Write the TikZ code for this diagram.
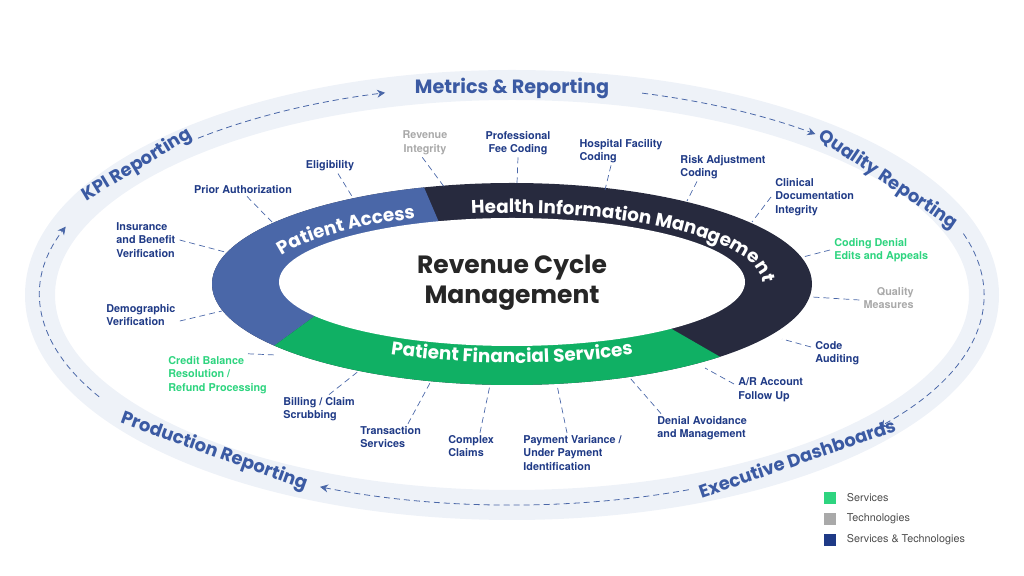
\documentclass[tikz,border=0pt]{standalone}
\usepackage{fontspec}
\setmainfont{TeX Gyre Heros}
\newfontfamily\headfont{Poppins}
\usetikzlibrary{decorations.text,arrows.meta}
\definecolor{bandgray}{HTML}{EEF2F8}
\definecolor{accblue}{HTML}{4A67A8}
\definecolor{himnavy}{HTML}{272A3E}
\definecolor{pfsgreen}{HTML}{10B064}
\definecolor{lblblue}{HTML}{1F3A86}
\definecolor{lblgreen}{HTML}{2ED47F}
\definecolor{lblgray}{HTML}{A9A9A9}
\definecolor{headblue}{HTML}{3B5AA3}
\tikzset{
  lbl/.style={font=\fontsize{5.4pt}{6.8pt}\selectfont\bfseries, text=lblblue, align=left, inner sep=0pt},
  lblg/.style={lbl, text=lblgreen},
  lblt/.style={lbl, text=lblgray},
  lead/.style={draw=accblue, densely dashed, line width=0.35pt},
  band/.style={font=\headfont\fontsize{9pt}{10pt}\selectfont\bfseries, text=headblue, inner sep=0pt},
  flow/.style={draw=accblue, densely dashed, line width=0.4pt, -{Stealth[length=4pt,width=4pt]}},
  key/.style={minimum size=6pt, inner sep=0pt},
  keytxt/.style={font=\fontsize{5.4pt}{6pt}\selectfont, text=black!70, anchor=west, inner sep=0pt}
}
\begin{document}
\begin{tikzpicture}[x=0.5pt,y=-0.5pt]
    \useasboundingbox (0,0) rectangle (1024,576);
    % outer band
    \draw [bandgray, line width=15pt] (512,295) ellipse [x radius=472, y radius=210];
    \draw [flow] ([shift={(-131.7:472 and 210)}]512,295) arc [start angle=-131.7, end angle=-105.6, x radius=472, y radius=210];
    \draw [flow] ([shift={(-74:472 and 210)}]512,295) arc [start angle=-74, end angle=-50, x radius=472, y radius=210];
    \draw [flow] ([shift={(-17:472 and 210)}]512,295) arc [start angle=-17, end angle=39, x radius=472, y radius=210];
    \draw [flow] ([shift={(68:472 and 210)}]512,295) arc [start angle=68, end angle=114, x radius=472, y radius=210];
    \draw [flow] ([shift={(151:472 and 210)}]512,295) arc [start angle=151, end angle=199, x radius=472, y radius=210];
    \node [band, font=\headfont\fontsize{9.6pt}{10pt}\selectfont\bfseries] (metrics) at (512,88) {Metrics \& Reporting};
    \node [band, rotate=31] (kpi) at (137,165) {KPI Reporting};
    \node [band, rotate=-34] (quality) at (888,180) {Quality Reporting};
    \node [band, rotate=19] (exec) at (797,458) {Executive Dashboards};
    \node [band, rotate=-20] (prod) at (214,452) {Production Reporting};
    % ring
    \begin{scope}
        \clip (512,284) ellipse [x radius=300, y radius=101];
        \fill [himnavy] (200,150) rectangle (820,400);
        \fill [accblue] (150,150) -- (408,150) -- (465,283) -- (360,283) -- (200,400) -- (150,400) -- cycle;
        \fill [pfsgreen] (360,283) -- (592,283) -- (795,400) -- (200,400) -- cycle;
        \fill [white] (512,282) ellipse [x radius=233, y radius=64];
    \end{scope}
    \path [decorate, decoration={text along path, text align=center,
        text={|\headfont\fontsize{9.2pt}{9pt}\selectfont\bfseries\color{white}|Patient Access}}]
        ([shift={(-168:250 and 70)}]512,283) arc [start angle=-168, end angle=-108, x radius=250, y radius=70];
    \path [decorate, decoration={text along path, text align=center,
        text={|\headfont\fontsize{9.2pt}{9pt}\selectfont\bfseries\color{white}|Health Information Management}}]
        ([shift={(-103:250 and 70)}]512,283) arc [start angle=-103, end angle=12, x radius=250, y radius=70];
    \path [decorate, decoration={text along path, text align=center,
        text={|\headfont\fontsize{9.2pt}{9pt}\selectfont\bfseries\color{white}|Patient Financial Services}}]
        ([shift={(122:268 and 80)}]512,283) arc [start angle=122, end angle=58, x radius=268, y radius=80];
    \node [font=\headfont\fontsize{12.5pt}{15pt}\selectfont\bfseries, text=black!85, align=center] (rcm) at (512,283) {Revenue Cycle\\Management};
    % labels
    \node [lblt, align=center] (revint) at (425,143) {Revenue\\Integrity};
    \node [lbl, align=center] (profee) at (518,143) {Professional\\Fee Coding};
    \node [lbl] (hospfac) at (621,151) {Hospital Facility\\Coding};
    \node [lbl] (riskadj) at (723,167) {Risk Adjustment\\Coding};
    \node [lbl, anchor=west] (cdi) at (775,197) {Clinical\\Documentation\\Integrity};
    \node [lblg, anchor=west] (codden) at (834,250) {Coding Denial\\Edits and Appeals};
    \node [lblt, align=right, anchor=east] (qualmeas) at (914,298) {Quality\\Measures};
    \node [lbl, anchor=west] (codeaud) at (815,353) {Code\\Auditing};
    \node [lbl, anchor=west] (arfollow) at (738,390) {A/R Account\\Follow Up};
    \node [lbl, anchor=west] (denavoid) at (657,428) {Denial Avoidance\\and Management};
    \node [lbl, anchor=west] (payvar) at (523,453) {Payment Variance /\\Under Payment\\Identification};
    \node [lbl, anchor=west] (complex) at (448,446) {Complex\\Claims};
    \node [lbl, anchor=west] (trans) at (360,437) {Transaction\\Services};
    \node [lbl, anchor=west] (billing) at (283,409) {Billing / Claim\\Scrubbing};
    \node [lblg, anchor=west] (credit) at (168,375) {Credit Balance\\Resolution /\\Refund Processing};
    \node [lbl, anchor=west] (demo) at (106,315) {Demographic\\Verification};
    \node [lbl, anchor=west] (insur) at (116,240) {Insurance\\and Benefit\\Verification};
    \node [lbl] (prior) at (243,190) {Prior Authorization};
    \node [lbl] (elig) at (330,166) {Eligibility};
    % leaders
    \coordinate (r1) at (445,188);
    \coordinate (r2) at (517,183);
    \coordinate (r3) at (605,190);
    \coordinate (r4) at (687,201);
    \coordinate (r5) at (752,222);
    \coordinate (r6) at (803,257);
    \coordinate (r7) at (812,297);
    \coordinate (r8) at (782,339);
    \coordinate (r9) at (705,368);
    \coordinate (r10) at (630,378);
    \coordinate (r11) at (557,385);
    \coordinate (r12) at (490,385);
    \coordinate (r13) at (430,383);
    \coordinate (r14) at (360,370);
    \coordinate (r15) at (276,355);
    \coordinate (r16) at (222,311);
    \coordinate (r17) at (225,252);
    \coordinate (r18) at (273,223);
    \coordinate (r19) at (353,198);
    \draw [lead] ([xshift=10pt,yshift=-1pt]revint.south west) -- (r1);
    \draw [lead] ([yshift=-1pt]profee.south) -- (r2);
    \draw [lead] ([xshift=-5pt,yshift=-1pt]hospfac.south) -- (r3);
    \draw [lead] ([xshift=-13pt,yshift=-1pt]riskadj.south) -- (r4);
    \draw [lead] ([xshift=-2pt]cdi.west) -- (r5);
    \draw [lead] ([xshift=-2pt]codden.west) -- (r6);
    \draw [lead] ([xshift=-2pt,yshift=-1pt]qualmeas.west) -- (r7);
    \draw [lead] ([xshift=-2pt,yshift=3pt]codeaud.west) -- (r8);
    \draw [lead] ([xshift=-2pt,yshift=3pt]arfollow.west) -- (r9);
    \draw [lead] ([xshift=2pt,yshift=1pt]denavoid.north west) -- (r10);
    \draw [lead] ([xshift=22pt,yshift=1pt]payvar.north west) -- (r11);
    \draw [lead] ([xshift=16pt,yshift=1pt]complex.north west) -- (r12);
    \draw [lead] ([xshift=24pt,yshift=1pt]trans.north west) -- (r13);
    \draw [lead] ([xshift=23pt,yshift=1pt]billing.north west) -- (r14);
    \draw [lead] ([xshift=40pt,yshift=1pt]credit.north west) -- (r15);
    \draw [lead] ([xshift=2pt,yshift=-3pt]demo.east) -- (r16);
    \draw [lead] ([xshift=2pt]insur.east) -- (r17);
    \draw [lead] ([xshift=2pt,yshift=-1pt]prior.south) -- (r18);
    \draw [lead] ([xshift=4pt,yshift=-1pt]elig.south) -- (r19);
    % legend
    \node [key, fill=lblgreen] (k1) at (830,498) {};
    \node [key, fill=lblgray] (k2) at (830,519) {};
    \node [key, fill=lblblue] (k3) at (830,540) {};
    \node [keytxt] at ([xshift=5pt]k1.east) {Services};
    \node [keytxt] at ([xshift=5pt]k2.east) {Technologies};
    \node [keytxt] at ([xshift=5pt]k3.east) {Services \& Technologies};
\end{tikzpicture}
\end{document}
